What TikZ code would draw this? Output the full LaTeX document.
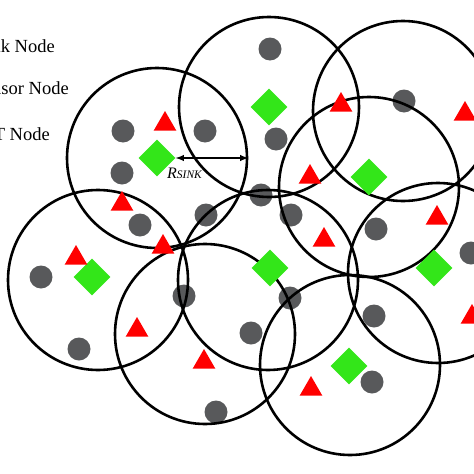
\documentclass[tikz,border=0pt]{standalone}
\usepackage{fontspec}
\setmainfont{Liberation Serif}
\usetikzlibrary{positioning,shapes,arrows}

\definecolor{sinkgreen}{RGB}{51,230,25}
\definecolor{sensorgray}{RGB}{88,89,91}
\definecolor{iotred}{RGB}{255,0,0}

\begin{document}
\begin{tikzpicture}[
  x=1pt,y=-1pt,
  rangecircle/.style={draw,circle,line width=2.6pt,minimum size=180pt,inner sep=0pt},
  sinknode/.style={diamond,fill=sinkgreen,minimum size=37pt,inner sep=0pt},
  sensornode/.style={circle,fill=sensorgray,minimum size=23pt,inner sep=0pt},
  iotnode/.style={regular polygon,regular polygon sides=3,fill=iotred,minimum size=26pt,inner sep=0pt},
  legendtext/.style={anchor=base east,inner sep=0pt,font=\fontsize{18.5}{22}\selectfont}
]
\useasboundingbox (0,0) rectangle (474,474);
% sensor nodes
\node[sensornode] (s1) at (123,131) {};
\node[sensornode] (s2) at (205,131) {};
\node[sensornode] (s3) at (122,173) {};
\node[sensornode] (s4) at (140,225) {};
\node[sensornode] (s5) at (206,215) {};
\node[sensornode] (s6) at (270,49) {};
\node[sensornode] (s7) at (276,139) {};
\node[sensornode] (s8) at (404,101) {};
\node[sensornode] (s9) at (261,195) {};
\node[sensornode] (s10) at (291,215) {};
\node[sensornode] (s11) at (376,229) {};
\node[sensornode] (s12) at (41,277) {};
\node[sensornode] (s13) at (79,349) {};
\node[sensornode] (s14) at (184,296) {};
\node[sensornode] (s15) at (290,298) {};
\node[sensornode] (s16) at (251,333) {};
\node[sensornode] (s17) at (374,316) {};
\node[sensornode] (s18) at (372,382) {};
\node[sensornode] (s19) at (216,412) {};
\node[sensornode] (s20) at (471,253) {};
% coverage of each sink
\node[rangecircle] (cA) at (157,158) {};
\node[rangecircle] (cB) at (269,107) {};
\node[rangecircle] (cC) at (403,111) {};
\node[rangecircle] (cD) at (369,187) {};
\node[rangecircle] (cE) at (438,273) {};
\node[rangecircle] (cF) at (98,280) {};
\node[rangecircle] (cG) at (268,280) {};
\node[rangecircle] (cH) at (205,334) {};
\node[rangecircle] (cI) at (350,365) {};
% sink nodes
\node[sinknode] (d1) at (157,158) {};
\node[sinknode] (d2) at (269,107) {};
\node[sinknode] (d3) at (369,177) {};
\node[sinknode] (d4) at (92,277) {};
\node[sinknode] (d5) at (270,268) {};
\node[sinknode] (d6) at (434,268) {};
\node[sinknode] (d7) at (349,366) {};
% IoT nodes
\node[iotnode] (t1) at (165,124) {};
\node[iotnode] (t2) at (122,204) {};
\node[iotnode] (t3) at (163,247) {};
\node[iotnode] (t4) at (76,258) {};
\node[iotnode] (t5) at (137,330) {};
\node[iotnode] (t6) at (204,362) {};
\node[iotnode] (t7) at (311,389) {};
\node[iotnode] (t8) at (324,240) {};
\node[iotnode] (t9) at (310,177) {};
\node[iotnode] (t10) at (341,105) {};
\node[iotnode] (t11) at (465,114) {};
\node[iotnode] (t12) at (437,218) {};
\node[iotnode] (t13) at (472,317) {};
% sink radius
\path (d1.east) edge[latex-latex,line width=1.8pt] (cA.east);
\node[anchor=base west,inner sep=0pt] (rs) at (167,178)
  {\fontsize{16}{18}\selectfont\itshape R\fontsize{11.5}{14}\selectfont SINK};
% legend
\node[legendtext] (l1) at (55,52) {Sink Node};
\node[legendtext] (l2) at (69,94) {Sensor Node};
\node[legendtext] (l3) at (50,140) {IoT Node};
\end{tikzpicture}
\end{document}
